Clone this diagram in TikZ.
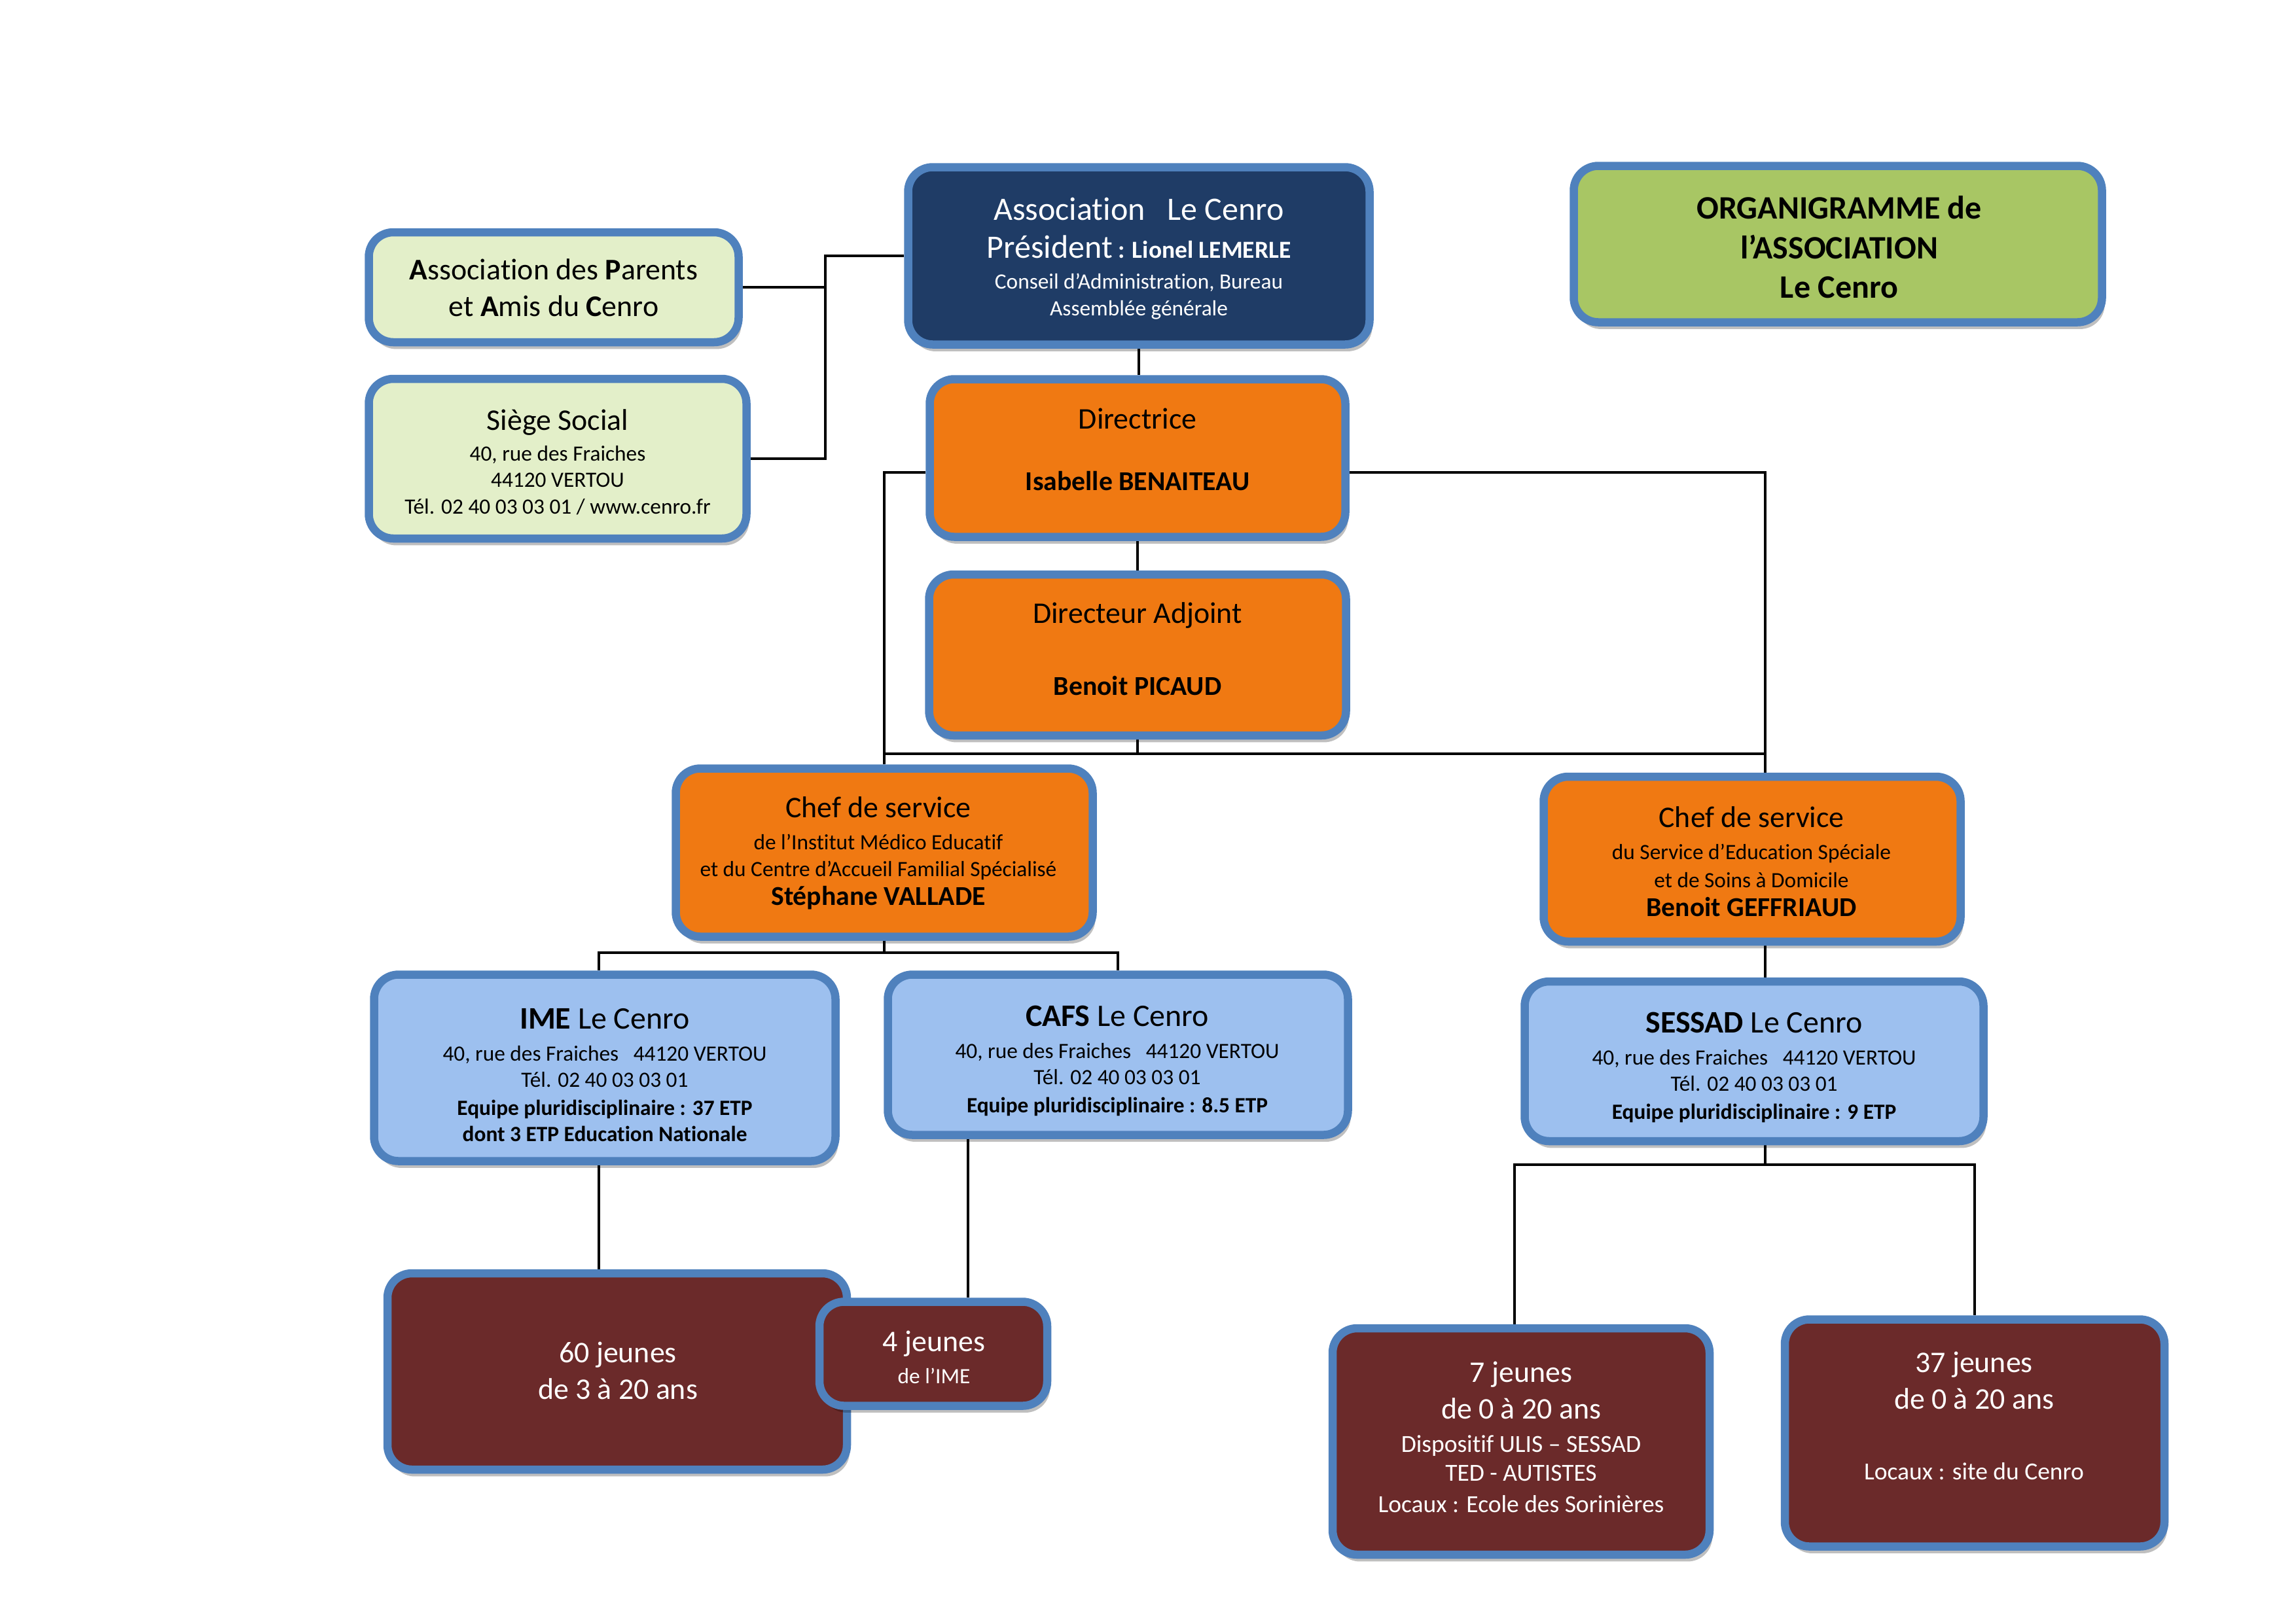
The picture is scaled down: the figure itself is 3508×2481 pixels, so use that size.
\documentclass[tikz,border=0pt]{standalone}
\usepackage{fontspec}
\setmainfont{Carlito}[Ligatures=NoCommon]
\usetikzlibrary{shadows,backgrounds}
\definecolor{rim}{HTML}{4F81BD}
\definecolor{palegreen}{HTML}{E3EFC9}
\definecolor{navy}{HTML}{1F3C66}
\definecolor{leaf}{HTML}{A8C664}
\definecolor{orng}{HTML}{F07912}
\definecolor{sky}{HTML}{9DC0EF}
\definecolor{maroonbox}{HTML}{6B2A2A}
\newcommand\fsz[2]{\fontsize{#1}{#2}\selectfont}
\begin{document}
\begin{tikzpicture}[x=0.24pt, y=-0.24pt,
  box/.style={draw=rim, line width=3pt, rounded corners=9pt, inner sep=0pt,
    drop shadow={shadow xshift=1pt, shadow yshift=-2.5pt, opacity=0.25, fill=black}},
  sz/.style 2 args={minimum width={(#1-12)*0.24pt}, minimum height={(#2-12)*0.24pt}},
  tx/.style={align=flush center, inner sep=0pt, text width=#1},
  conn/.style={line width=0.8pt, draw=black}]
\useasboundingbox (0,0) rectangle (3508,2481);

% boxes
\node[box, fill=palegreen, sz={577}{180}] (parents) at (846,439) {};
\node[box, fill=palegreen, sz={589}{256}] (siege) at (852,701) {};
\node[box, fill=navy, sz={717}{283}] (assoc) at (1740,391) {};
\node[box, fill=leaf, sz={819}{251}] (green) at (2808,373) {};
\node[box, fill=orng, sz={647}{253}] (dir) at (1738,700) {};
\node[box, fill=orng, sz={649}{258}] (adj) at (1738,1001) {};
\node[box, fill=orng, sz={649}{269}] (chefI) at (1351,1303) {};
\node[box, fill=orng, sz={649}{264}] (chefS) at (2677,1313) {};
\node[box, fill=sky, sz={717}{297}] (ime) at (924,1632) {};
\node[box, fill=sky, sz={715}{257}] (cafs) at (1708,1612) {};
\node[box, fill=sky, sz={713}{256}] (sessad) at (2680,1622) {};
\node[box, fill=maroonbox, sz={714}{312}] (sixty) at (943,2096) {};
\node[box, fill=maroonbox, sz={360}{171}] (four) at (1426,2069) {};
\node[box, fill=maroonbox, sz={588}{358}] (seven) at (2324,2203) {};
\node[box, fill=maroonbox, sz={592}{359}] (t37) at (3017,2190) {};

% texts
\node[tx=130pt] (parentsT) at (846,440) {\fsz{11}{13.4}\textbf{A}ssociation des \textbf{P}arents\par
  et \textbf{A}mis du \textbf{C}enro\par};
\node[tx=135pt] (siegeT) at (852,706) {\fsz{11}{13}Siège Social\par
  \fsz{8}{11.3}40, rue des Fraiches\par
  \fsz{8}{9.7}44120 VERTOU\par
  Tél. 02 40 03 03 01 / www.cenro.fr\par};
\node[tx=160pt, text=white] (assocT) at (1740,395) {\fsz{12}{14}Association\ \ \ Le Cenro\par
  Président\fsz{9}{14}\textbf{ : Lionel LEMERLE}\par
  \fsz{8}{11.3}Conseil d’Administration, Bureau\par
  \fsz{8}{9.7}Assemblée générale\par};
\node[tx=180pt] (greenT) at (2810,378) {\fsz{12}{14.5}\bfseries ORGANIGRAMME de\par
  l’ASSOCIATION\par Le Cenro\par};
\node[tx=140pt] (dirT) at (1738,687) {\fsz{11}{13}Directrice\par
  \fsz{10}{22.5}\textbf{Isabelle BENAITEAU}\par};
\node[tx=140pt] (adjT) at (1738,992) {\fsz{11}{13}Directeur Adjoint\par
  \fsz{10}{26.3}\textbf{Benoit PICAUD}\par};
\node[tx=145pt] (chefIT) at (1342,1304) {\fsz{11}{13}Chef de service\par
  \fsz{8}{11.8}de l’Institut Médico Educatif\par
  \fsz{8}{9.7}et du Centre d’Accueil Familial Spécialisé\par
  \fsz{10}{10.7}\textbf{Stéphane VALLADE}\par};
\node[tx=145pt] (chefST) at (2676,1317) {\fsz{11}{13}Chef de service\par
  \fsz{8}{11.8}du Service d’Education Spéciale\par
  \fsz{8}{10.2}et de Soins à Domicile\par
  \fsz{10}{10.7}\textbf{Benoit GEFFRIAUD}\par};
\node[tx=160pt] (imeT) at (924,1643) {\fsz{11.5}{13}\textbf{IME} Le Cenro\par
  \fsz{8}{11.8}40, rue des Fraiches\ \ \ 44120 VERTOU\par
  \fsz{8}{9.7}Tél. 02 40 03 03 01\par
  \fsz{8}{10.2}\textbf{Equipe pluridisciplinaire : 37 ETP}\par
  \fsz{8}{9.7}\textbf{dont 3 ETP Education Nationale}\par};
\node[tx=160pt] (cafsT) at (1707,1621) {\fsz{11.5}{13}\textbf{CAFS} Le Cenro\par
  \fsz{8}{11.8}40, rue des Fraiches\ \ \ 44120 VERTOU\par
  \fsz{8}{9.7}Tél. 02 40 03 03 01\par
  \fsz{8}{10.2}\textbf{Equipe pluridisciplinaire : 8.5 ETP}\par};
\node[tx=160pt] (sessadT) at (2680,1631) {\fsz{11.5}{13}\textbf{SESSAD} Le Cenro\par
  \fsz{8}{11.8}40, rue des Fraiches\ \ \ 44120 VERTOU\par
  \fsz{8}{9.7}Tél. 02 40 03 03 01\par
  \fsz{8}{10.2}\textbf{Equipe pluridisciplinaire : 9 ETP}\par};
\node[tx=150pt, text=white] (sixtyT) at (944,2095) {\fsz{11}{13.4}60 jeunes\par de 3 à 20 ans\par};
\node[tx=75pt, text=white] (fourT) at (1427,2074) {\fsz{11}{13}4 jeunes\par \fsz{8}{11.8}de l’IME\par};
\node[tx=130pt, text=white] (sevenT) at (2324,2196) {\fsz{11}{13.4}7 jeunes\par de 0 à 20 ans\par
  \fsz{9}{12.3}Dispositif ULIS – SESSAD\par
  \fsz{9}{10.7}TED - AUTISTES\par
  \fsz{9}{11.3}Locaux : Ecole des Sorinières\par};
\node[tx=130pt, text=white] (t37T) at (3016,2164) {\fsz{11}{13.4}37 jeunes\par de 0 à 20 ans\par
  \fsz{9}{25.8}Locaux : site du Cenro\par};

% connectors
\coordinate (ja) at (1261,391);
\coordinate (rx) at (2697,0);
\coordinate (hb) at (0,1152);
\coordinate (ib) at (0,1456);
\coordinate (ix) at (915,0);
\coordinate (cx) at (1479,0);
\coordinate (sb) at (0,1780);
\coordinate (sx) at (2314,0);
\begin{pgfonlayer}{background}
\draw[conn] (assoc.west) -| (ja) |- (parents.east);
\draw[conn] (ja) |- (siege.east);
\draw[conn] (assoc.south) -- (assoc.south |- dir.north);
\draw[conn] (dir.south) -- (adj.north);
\draw[conn] ([yshift=-5.3pt]dir.west) -| (chefI.north);
\draw[conn] ([yshift=-5.3pt]dir.east) -| (chefS.north -| rx);
\draw[conn] (adj.south) -- (adj.south |- hb);
\draw[conn] (chefI.north |- hb) -- (rx |- hb);
\draw[conn] (chefI.south) -- (chefI.south |- ib);
\draw[conn] (ime.north -| ix) |- (cafs.north |- ib) -- (cafs.north);
\draw[conn] (ime.south -| ix) -- (sixty.north -| ix);
\draw[conn] (cafs.south -| cx) -- (four.north -| cx);
\draw[conn] (chefS.south -| rx) -- (sessad.north -| rx);
\draw[conn] (sessad.south -| rx) -- (sb -| rx);
\draw[conn] (seven.north -| sx) |- (t37.north |- sb) -- (t37.north);
\end{pgfonlayer}
\end{tikzpicture}
\end{document}
